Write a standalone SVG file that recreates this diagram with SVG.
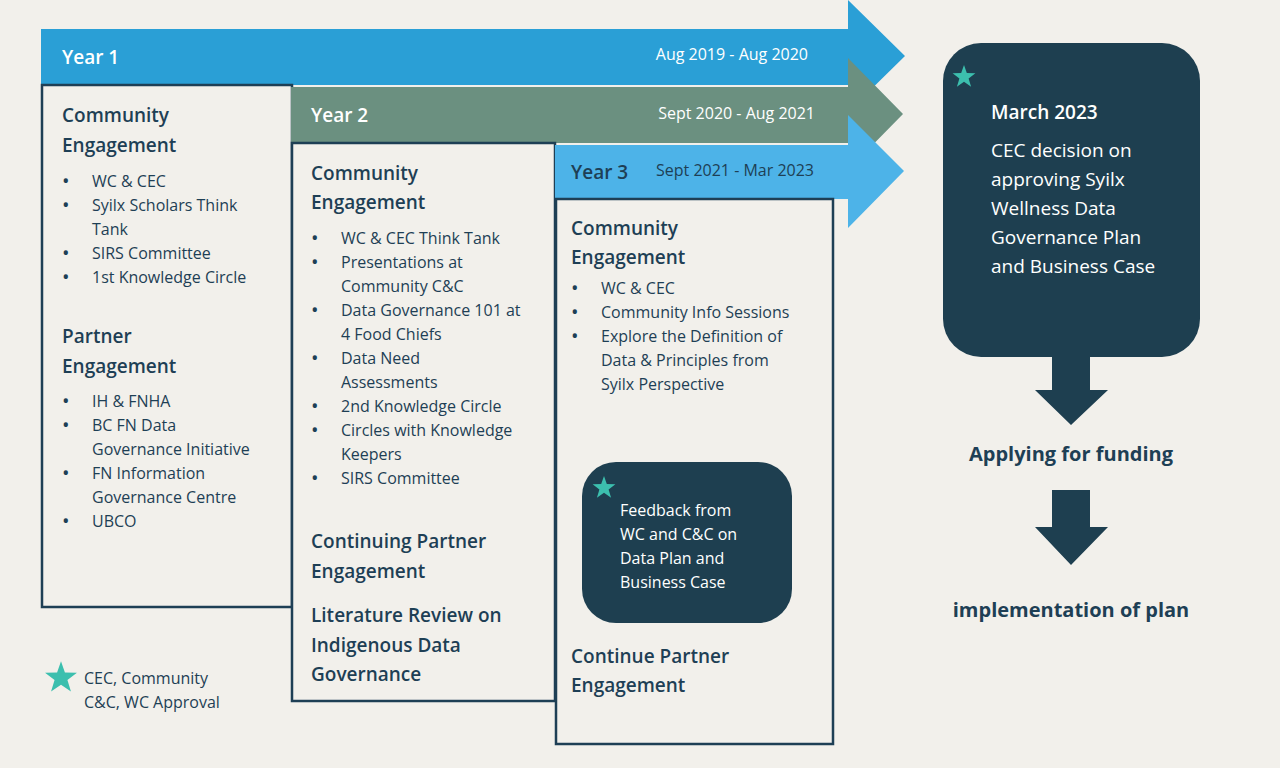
<svg xmlns="http://www.w3.org/2000/svg" width="1280" height="768" viewBox="0 0 1280 768">
<style>
text{font-family:"Open Sans","Liberation Sans",sans-serif;fill:#1e3f55}
.h{font-size:19px;font-weight:600}
.hb{font-size:20px;font-weight:700}
.t{font-size:16px}
.b{font-size:20px}
.w{fill:#fff}
.yr{font-size:19px;font-weight:600}
.box{fill:#f2f0eb;stroke:#1e3f55;stroke-width:2.5}
.star{fill:#3cbfae}
</style>
<defs>
<polygon id="star" points="0,-12 2.8,-3.9 11.4,-3.7 4.6,1.5 7.1,9.7 0,4.8 -7.1,9.7 -4.6,1.5 -11.4,-3.7 -2.8,-3.9"/>
</defs>
<rect width="1280" height="768" fill="#f2f0eb"/>
<g id="year1">
<polygon fill="#2a9fd6" points="41,29 848,29 848,0 905,56 848,112 848,85 41,85"/>
<rect class="box" x="42" y="85" width="250" height="522"/>
<text class="yr w" x="62" y="64">Year 1</text>
<text class="t w" x="808" y="60" text-anchor="end">Aug 2019 - Aug 2020</text>
<text class="h" x="62" y="122">Community</text>
<text class="h" x="62" y="152">Engagement</text>
<g class="t"><text class="b" x="62" y="188">•</text><text x="92" y="187">WC &amp; CEC</text>
<text class="b" x="62" y="212">•</text><text x="92" y="211">Syilx Scholars Think</text><text x="92" y="235">Tank</text>
<text class="b" x="62" y="260">•</text><text x="92" y="259">SIRS Committee</text>
<text class="b" x="62" y="284">•</text><text x="92" y="283">1st Knowledge Circle</text></g>
<text class="h" x="62" y="343">Partner</text>
<text class="h" x="62" y="373">Engagement</text>
<g class="t"><text class="b" x="62" y="408">•</text><text x="92" y="407">IH &amp; FNHA</text>
<text class="b" x="62" y="432">•</text><text x="92" y="431">BC FN Data</text><text x="92" y="455">Governance Initiative</text>
<text class="b" x="62" y="480">•</text><text x="92" y="479">FN Information</text><text x="92" y="503">Governance Centre</text>
<text class="b" x="62" y="528">•</text><text x="92" y="527">UBCO</text></g>
</g>
<g id="year2">
<polygon fill="#6b9080" points="291,87 848,87 848,58 903,114 848,170 848,143 291,143"/>
<rect class="box" x="292" y="143" width="263" height="558"/>
<text class="yr w" x="311" y="122">Year 2</text>
<text class="t w" x="815" y="119" text-anchor="end">Sept 2020 - Aug 2021</text>
<text class="h" x="311" y="180">Community</text>
<text class="h" x="311" y="209">Engagement</text>
<g class="t"><text class="b" x="311" y="245">•</text><text x="341" y="244">WC &amp; CEC Think Tank</text>
<text class="b" x="311" y="269">•</text><text x="341" y="268">Presentations at</text><text x="341" y="292">Community C&amp;C</text>
<text class="b" x="311" y="317">•</text><text x="341" y="316">Data Governance 101 at</text><text x="341" y="340">4 Food Chiefs</text>
<text class="b" x="311" y="365">•</text><text x="341" y="364">Data Need</text><text x="341" y="388">Assessments</text>
<text class="b" x="311" y="413">•</text><text x="341" y="412">2nd Knowledge Circle</text>
<text class="b" x="311" y="437">•</text><text x="341" y="436">Circles with Knowledge</text><text x="341" y="460">Keepers</text>
<text class="b" x="311" y="485">•</text><text x="341" y="484">SIRS Committee</text></g>
<text class="h" x="311" y="548">Continuing Partner</text>
<text class="h" x="311" y="578">Engagement</text>
<text class="h" x="311" y="622">Literature Review on</text>
<text class="h" x="311" y="652">Indigenous Data</text>
<text class="h" x="311" y="681">Governance</text>
</g>
<g id="year3">
<polygon fill="#4db3e8" points="555,145 848,145 848,115 904,171 848,228 848,199 555,199"/>
<rect class="box" x="556" y="199" width="277" height="545"/>
<text class="yr" x="571" y="179">Year 3</text>
<text class="t" x="814" y="176" text-anchor="end">Sept 2021 - Mar 2023</text>
<text class="h" x="571" y="235">Community</text>
<text class="h" x="571" y="264">Engagement</text>
<g class="t"><text class="b" x="571" y="295">•</text><text x="601" y="294">WC &amp; CEC</text>
<text class="b" x="571" y="319">•</text><text x="601" y="318">Community Info Sessions</text>
<text class="b" x="571" y="343">•</text><text x="601" y="342">Explore the Definition of</text><text x="601" y="366">Data &amp; Principles from</text><text x="601" y="390">Syilx Perspective</text></g>
<text class="h" x="571" y="663">Continue Partner</text>
<text class="h" x="571" y="692">Engagement</text>
</g>
<g id="feedback">
<rect x="582" y="462" width="210" height="161" rx="34" fill="#1e3f50"/>
<use href="#star" class="star" x="604" y="488"/>
<g class="t"><text class="w" x="620" y="516">Feedback from</text><text class="w" x="620" y="540">WC and C&amp;C on</text><text class="w" x="620" y="564">Data Plan and</text><text class="w" x="620" y="588">Business Case</text></g>
</g>
<g id="march2023">
<rect x="943" y="43" width="257" height="314" rx="38" fill="#1e3f50"/>
<use href="#star" class="star" x="964" y="77"/>
<text class="h w" x="991" y="119">March 2023</text>
<g style="font-size:19px"><text class="w" x="991" y="157">CEC decision on</text><text class="w" x="991" y="186">approving Syilx</text><text class="w" x="991" y="215">Wellness Data</text><text class="w" x="991" y="244">Governance Plan</text><text class="w" x="991" y="273">and Business Case</text></g>
</g>
<g id="connectors" fill="#1e3f50">
<polygon points="1052,357 1090,357 1090,390 1108,390 1071,425 1035,390 1052,390"/>
<polygon points="1052,490 1090,490 1090,527 1108,527 1071,565 1035,527 1052,527"/>
</g>
<g id="funding"><text class="hb" x="1071" y="461" text-anchor="middle">Applying for funding</text></g>
<g id="implementation"><text class="hb" x="1071" y="617" text-anchor="middle">implementation of plan</text></g>
<g id="legend">
<use href="#star" class="star" x="61" y="678" transform="translate(-24.4 -271.2) scale(1.4)"/>
<text class="t" x="84" y="684">CEC, Community</text>
<text class="t" x="84" y="708">C&amp;C, WC Approval</text>
</g>
</svg>
